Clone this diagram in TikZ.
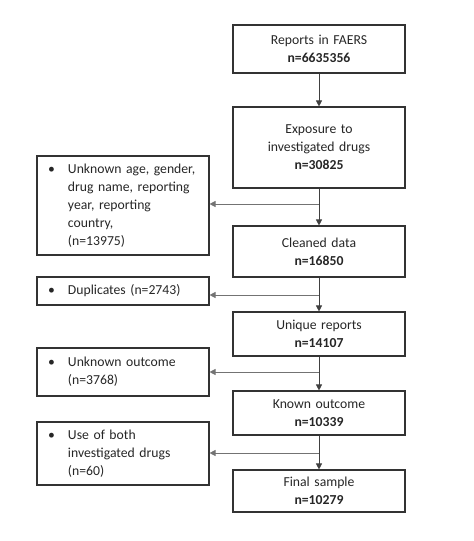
\documentclass[tikz,border=0pt]{standalone}
\usepackage{fontspec}
\setmainfont{Carlito}
\usetikzlibrary{arrows.meta}

\begin{document}
\begin{tikzpicture}[x=1pt,y=-1pt,
  font=\fontsize{13.7}{18}\selectfont, text=black!85,
  mainbox/.style={draw=black!80,line width=1.1pt,minimum width=172pt,text width=164pt,
    inner xsep=4pt,inner ysep=2pt,align=center},
  sidebox/.style={draw=black!80,line width=1.1pt,text width=150pt,
    inner xsep=11pt,inner ysep=2pt,align=left},
  flow/.style={draw=black!75,line width=0.7pt,-{Triangle[length=6pt,width=6pt]}},
  branch/.style={draw=black!55,line width=0.7pt,-{Triangle[length=6pt,width=6pt]}}]

\useasboundingbox (0,0) rectangle (474,541);

% positions
\def\xm{319}
\def\xs{123}

% main column
\node[mainbox,minimum height=48pt] (faers) at (\xm,49) {Reports in FAERS\\\textbf{n=6635356}};
\node[mainbox,minimum height=81pt] (expo) at (\xm,147.5) {Exposure to\\investigated drugs\\\textbf{n=30825}};
\node[mainbox,minimum height=51pt] (clean) at (\xm,251.5) {Cleaned data\\\textbf{n=16850}};
\node[mainbox,minimum height=44pt] (uniq) at (\xm,334) {Unique reports\\\textbf{n=14107}};
\node[mainbox,minimum height=44pt] (known) at (\xm,413) {Known outcome\\\textbf{n=10339}};
\node[mainbox,minimum height=42pt] (final) at (\xm,491) {Final sample\\\textbf{n=10279}};

% exclusions
\node[sidebox,minimum height=99pt] (miss) at (\xs,205.5) {\begin{tabular}{@{}p{20pt}@{}l@{}}
  \textbullet & Unknown age, gender,\\ & drug name, reporting\\ & year, reporting\\ & country,\\ & (n=13975)\end{tabular}};
\node[sidebox,minimum height=28pt] (dupl) at (\xs,291) {\begin{tabular}{@{}p{20pt}@{}l@{}}
  \textbullet & Duplicates (n=2743)\end{tabular}};
\node[sidebox,minimum height=48pt] (unkn) at (\xs,372) {\begin{tabular}{@{}p{20pt}@{}l@{}}
  \textbullet & Unknown outcome\\ & (n=3768)\end{tabular}};
\node[sidebox,minimum height=63pt] (both) at (\xs,453.5) {\begin{tabular}{@{}p{20pt}@{}l@{}}
  \textbullet & Use of both\\ & investigated drugs\\ & (n=60)\end{tabular}};

% junctions on the main line
\coordinate (j1) at (\xm,204);
\coordinate (j2) at (\xm,295);
\coordinate (j3) at (\xm,372);
\coordinate (j4) at (\xm,453);

% arrows
\draw[flow] (faers) -- (expo);
\draw[flow] (expo) -- (clean);
\draw[flow] (clean) -- (uniq);
\draw[flow] (uniq) -- (known);
\draw[flow] (known) -- (final);

\draw[branch] (j1) -- (j1 -| miss.east);
\draw[branch] (j2) -- (j2 -| dupl.east);
\draw[branch] (j3) -- (j3 -| unkn.east);
\draw[branch] (j4) -- (j4 -| both.east);

\end{tikzpicture}
\end{document}
